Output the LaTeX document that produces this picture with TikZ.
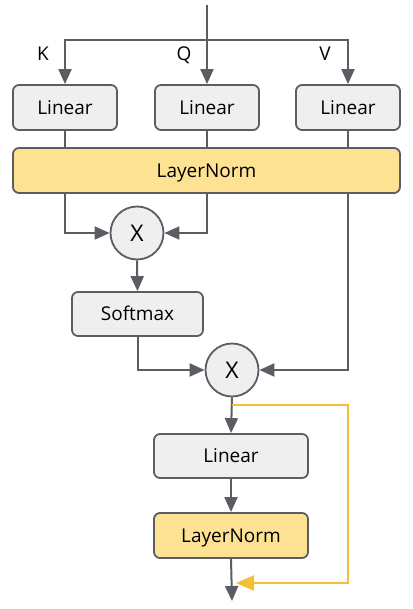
\documentclass[tikz,border=0pt]{standalone}
\usepackage{fontspec}
\setmainfont{Open Sans}
\usetikzlibrary{arrows.meta}
\definecolor{boxgray}{HTML}{EFEFEF}
\definecolor{edgegray}{HTML}{5A5E63}
\definecolor{lnyellow}{HTML}{FDE293}
\definecolor{skipyellow}{HTML}{F4BE37}
\begin{document}
\begin{tikzpicture}[x=1pt,y=-1pt,
  font=\fontsize{19}{22}\selectfont,
  box/.style={draw=edgegray,line width=1.8pt,rounded corners=6pt,fill=boxgray,
    minimum height=45pt,inner sep=0pt,text=black,text height=13.6pt,text depth=0pt},
  normbox/.style={box,fill=lnyellow},
  mulnode/.style={circle,draw=edgegray,line width=1.8pt,fill=boxgray,minimum size=53pt,
    inner sep=0pt,font=\fontsize{23}{26}\selectfont,text height=16.5pt,text depth=0pt},
  conn/.style={draw=edgegray,line width=2pt},
  arr/.style={conn,-{Triangle[length=15pt,width=13pt]}},
  skip/.style={draw=skipyellow,line width=2pt,-{Triangle[length=18pt,width=15pt]}},
  lbl/.style={text=black,text height=13.6pt,text depth=0pt,inner sep=0pt}]
\useasboundingbox (0,0) rectangle (412,609);
% nodes
\node[box,minimum width=104pt] (lin1) at (65,107.5) {Linear};
\node[box,minimum width=104pt] (lin2) at (207,107.5) {Linear};
\node[box,minimum width=104pt] (lin3) at (348,107.5) {Linear};
\node[normbox,minimum width=387pt] (ln1) at (206.5,170.5) {LayerNorm};
\node[mulnode] (mul1) at (137,233) {X};
\node[box,minimum width=131pt,minimum height=44pt] (soft) at (137.5,314) {Softmax};
\node[mulnode] (mul2) at (232,370) {X};
\node[box,minimum width=154pt,minimum height=44pt] (lin4) at (231,456) {Linear};
\node[normbox,minimum width=154pt] (ln2) at (231,535.5) {LayerNorm};
\node[lbl] (kl) at (43,54) {K};
\node[lbl] (ql) at (184,54) {Q};
\node[lbl] (vl) at (325,54) {V};
% coordinates
\coordinate (inp) at (207,5);
\coordinate (split) at (207,40);
\coordinate (skipstart) at (232,405);
\coordinate (skipcorner) at (348,405);
\coordinate (skipend) at (236,583);
\coordinate (outp) at (232,601);
% input fan-out
\draw[arr] (inp) -- (lin2.north);
\draw[arr] (split) -| (lin1.north);
\draw[arr] (split) -| (lin3.north);
% linear to layernorm
\draw[conn] (lin1.south) -- (lin1.south |- ln1.north);
\draw[conn] (lin2.south) -- (lin2.south |- ln1.north);
\draw[conn] (lin3.south) -- (lin3.south |- ln1.north);
% layernorm to multiplies
\draw[arr] (lin1.south |- ln1.south) |- (mul1.west);
\draw[arr] (lin2.south |- ln1.south) |- (mul1.east);
\draw[arr] (lin3.south |- ln1.south) |- (mul2.east);
\draw[arr] (mul1.south) -- (soft.north);
\draw[arr] (soft.south) |- (mul2.west);
\draw[arr] (mul2.south) -- (lin4.north);
\draw[arr] (lin4.south) -- (ln2.north);
\draw[arr] (ln2.south) -- (outp);
% skip connection
\draw[skip] (skipstart) -- (skipcorner) |- (skipend);
\end{tikzpicture}
\end{document}
